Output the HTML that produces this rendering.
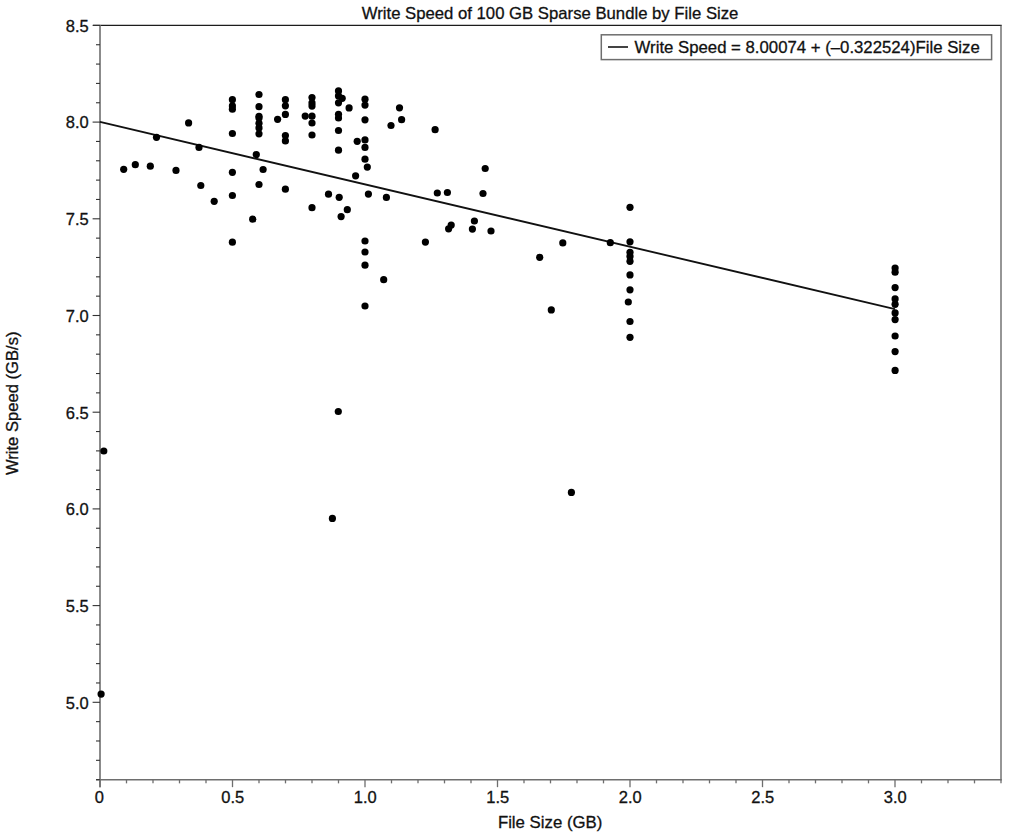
<!DOCTYPE html>
<html><head><meta charset="utf-8"><title>Write Speed of 100 GB Sparse Bundle by File Size</title>
<style>
html,body{margin:0;padding:0;background:#fff;}
body{width:1023px;height:837px;overflow:hidden;}
svg{display:block;font-family:"Liberation Sans", sans-serif;}
text{fill:#111;stroke:#111;stroke-width:0.3px;}
</style></head><body>
<svg width="1023" height="837" viewBox="0 0 1023 837">
<line x1="93" y1="25.4" x2="1001.7" y2="25.4" stroke="#1c1c1c" stroke-width="1.2"/>
<line x1="1001.0" y1="25.4" x2="1001.0" y2="780.3600000000001" stroke="#5e5e5e" stroke-width="1.3"/>
<line x1="100.0" y1="24.9" x2="100.0" y2="787.1600000000001" stroke="#6e6e6e" stroke-width="1.6"/>
<line x1="96" y1="779.6600000000001" x2="1001.7" y2="779.6600000000001" stroke="#6e6e6e" stroke-width="1.5"/>
<line x1="96.0" y1="779.66" x2="100.0" y2="779.66" stroke="#333" stroke-width="1.1"/>
<line x1="96.0" y1="760.32" x2="100.0" y2="760.32" stroke="#333" stroke-width="1.1"/>
<line x1="96.0" y1="740.98" x2="100.0" y2="740.98" stroke="#333" stroke-width="1.1"/>
<line x1="96.0" y1="721.64" x2="100.0" y2="721.64" stroke="#333" stroke-width="1.1"/>
<line x1="92.6" y1="702.30" x2="100.0" y2="702.30" stroke="#333" stroke-width="1.1"/>
<line x1="96.0" y1="682.96" x2="100.0" y2="682.96" stroke="#333" stroke-width="1.1"/>
<line x1="96.0" y1="663.62" x2="100.0" y2="663.62" stroke="#333" stroke-width="1.1"/>
<line x1="96.0" y1="644.28" x2="100.0" y2="644.28" stroke="#333" stroke-width="1.1"/>
<line x1="96.0" y1="624.94" x2="100.0" y2="624.94" stroke="#333" stroke-width="1.1"/>
<line x1="92.6" y1="605.60" x2="100.0" y2="605.60" stroke="#333" stroke-width="1.1"/>
<line x1="96.0" y1="586.26" x2="100.0" y2="586.26" stroke="#333" stroke-width="1.1"/>
<line x1="96.0" y1="566.92" x2="100.0" y2="566.92" stroke="#333" stroke-width="1.1"/>
<line x1="96.0" y1="547.58" x2="100.0" y2="547.58" stroke="#333" stroke-width="1.1"/>
<line x1="96.0" y1="528.24" x2="100.0" y2="528.24" stroke="#333" stroke-width="1.1"/>
<line x1="92.6" y1="508.90" x2="100.0" y2="508.90" stroke="#333" stroke-width="1.1"/>
<line x1="96.0" y1="489.56" x2="100.0" y2="489.56" stroke="#333" stroke-width="1.1"/>
<line x1="96.0" y1="470.22" x2="100.0" y2="470.22" stroke="#333" stroke-width="1.1"/>
<line x1="96.0" y1="450.88" x2="100.0" y2="450.88" stroke="#333" stroke-width="1.1"/>
<line x1="96.0" y1="431.54" x2="100.0" y2="431.54" stroke="#333" stroke-width="1.1"/>
<line x1="92.6" y1="412.20" x2="100.0" y2="412.20" stroke="#333" stroke-width="1.1"/>
<line x1="96.0" y1="392.86" x2="100.0" y2="392.86" stroke="#333" stroke-width="1.1"/>
<line x1="96.0" y1="373.52" x2="100.0" y2="373.52" stroke="#333" stroke-width="1.1"/>
<line x1="96.0" y1="354.18" x2="100.0" y2="354.18" stroke="#333" stroke-width="1.1"/>
<line x1="96.0" y1="334.84" x2="100.0" y2="334.84" stroke="#333" stroke-width="1.1"/>
<line x1="92.6" y1="315.50" x2="100.0" y2="315.50" stroke="#333" stroke-width="1.1"/>
<line x1="96.0" y1="296.16" x2="100.0" y2="296.16" stroke="#333" stroke-width="1.1"/>
<line x1="96.0" y1="276.82" x2="100.0" y2="276.82" stroke="#333" stroke-width="1.1"/>
<line x1="96.0" y1="257.48" x2="100.0" y2="257.48" stroke="#333" stroke-width="1.1"/>
<line x1="96.0" y1="238.14" x2="100.0" y2="238.14" stroke="#333" stroke-width="1.1"/>
<line x1="92.6" y1="218.80" x2="100.0" y2="218.80" stroke="#333" stroke-width="1.1"/>
<line x1="96.0" y1="199.46" x2="100.0" y2="199.46" stroke="#333" stroke-width="1.1"/>
<line x1="96.0" y1="180.12" x2="100.0" y2="180.12" stroke="#333" stroke-width="1.1"/>
<line x1="96.0" y1="160.78" x2="100.0" y2="160.78" stroke="#333" stroke-width="1.1"/>
<line x1="96.0" y1="141.44" x2="100.0" y2="141.44" stroke="#333" stroke-width="1.1"/>
<line x1="92.6" y1="122.10" x2="100.0" y2="122.10" stroke="#333" stroke-width="1.1"/>
<line x1="96.0" y1="102.76" x2="100.0" y2="102.76" stroke="#333" stroke-width="1.1"/>
<line x1="96.0" y1="83.42" x2="100.0" y2="83.42" stroke="#333" stroke-width="1.1"/>
<line x1="96.0" y1="64.08" x2="100.0" y2="64.08" stroke="#333" stroke-width="1.1"/>
<line x1="96.0" y1="44.74" x2="100.0" y2="44.74" stroke="#333" stroke-width="1.1"/>
<line x1="92.6" y1="25.40" x2="100.0" y2="25.40" stroke="#333" stroke-width="1.1"/>
<line x1="100.00" y1="779.6600000000001" x2="100.00" y2="787.1600000000001" stroke="#6e6e6e" stroke-width="1.3"/>
<line x1="126.50" y1="779.6600000000001" x2="126.50" y2="783.3600000000001" stroke="#6e6e6e" stroke-width="1.3"/>
<line x1="153.00" y1="779.6600000000001" x2="153.00" y2="783.3600000000001" stroke="#6e6e6e" stroke-width="1.3"/>
<line x1="179.50" y1="779.6600000000001" x2="179.50" y2="783.3600000000001" stroke="#6e6e6e" stroke-width="1.3"/>
<line x1="206.00" y1="779.6600000000001" x2="206.00" y2="783.3600000000001" stroke="#6e6e6e" stroke-width="1.3"/>
<line x1="232.50" y1="779.6600000000001" x2="232.50" y2="787.1600000000001" stroke="#6e6e6e" stroke-width="1.3"/>
<line x1="259.00" y1="779.6600000000001" x2="259.00" y2="783.3600000000001" stroke="#6e6e6e" stroke-width="1.3"/>
<line x1="285.50" y1="779.6600000000001" x2="285.50" y2="783.3600000000001" stroke="#6e6e6e" stroke-width="1.3"/>
<line x1="312.00" y1="779.6600000000001" x2="312.00" y2="783.3600000000001" stroke="#6e6e6e" stroke-width="1.3"/>
<line x1="338.50" y1="779.6600000000001" x2="338.50" y2="783.3600000000001" stroke="#6e6e6e" stroke-width="1.3"/>
<line x1="365.00" y1="779.6600000000001" x2="365.00" y2="787.1600000000001" stroke="#6e6e6e" stroke-width="1.3"/>
<line x1="391.50" y1="779.6600000000001" x2="391.50" y2="783.3600000000001" stroke="#6e6e6e" stroke-width="1.3"/>
<line x1="418.00" y1="779.6600000000001" x2="418.00" y2="783.3600000000001" stroke="#6e6e6e" stroke-width="1.3"/>
<line x1="444.50" y1="779.6600000000001" x2="444.50" y2="783.3600000000001" stroke="#6e6e6e" stroke-width="1.3"/>
<line x1="471.00" y1="779.6600000000001" x2="471.00" y2="783.3600000000001" stroke="#6e6e6e" stroke-width="1.3"/>
<line x1="497.50" y1="779.6600000000001" x2="497.50" y2="787.1600000000001" stroke="#6e6e6e" stroke-width="1.3"/>
<line x1="524.00" y1="779.6600000000001" x2="524.00" y2="783.3600000000001" stroke="#6e6e6e" stroke-width="1.3"/>
<line x1="550.50" y1="779.6600000000001" x2="550.50" y2="783.3600000000001" stroke="#6e6e6e" stroke-width="1.3"/>
<line x1="577.00" y1="779.6600000000001" x2="577.00" y2="783.3600000000001" stroke="#6e6e6e" stroke-width="1.3"/>
<line x1="603.50" y1="779.6600000000001" x2="603.50" y2="783.3600000000001" stroke="#6e6e6e" stroke-width="1.3"/>
<line x1="630.00" y1="779.6600000000001" x2="630.00" y2="787.1600000000001" stroke="#6e6e6e" stroke-width="1.3"/>
<line x1="656.50" y1="779.6600000000001" x2="656.50" y2="783.3600000000001" stroke="#6e6e6e" stroke-width="1.3"/>
<line x1="683.00" y1="779.6600000000001" x2="683.00" y2="783.3600000000001" stroke="#6e6e6e" stroke-width="1.3"/>
<line x1="709.50" y1="779.6600000000001" x2="709.50" y2="783.3600000000001" stroke="#6e6e6e" stroke-width="1.3"/>
<line x1="736.00" y1="779.6600000000001" x2="736.00" y2="783.3600000000001" stroke="#6e6e6e" stroke-width="1.3"/>
<line x1="762.50" y1="779.6600000000001" x2="762.50" y2="787.1600000000001" stroke="#6e6e6e" stroke-width="1.3"/>
<line x1="789.00" y1="779.6600000000001" x2="789.00" y2="783.3600000000001" stroke="#6e6e6e" stroke-width="1.3"/>
<line x1="815.50" y1="779.6600000000001" x2="815.50" y2="783.3600000000001" stroke="#6e6e6e" stroke-width="1.3"/>
<line x1="842.00" y1="779.6600000000001" x2="842.00" y2="783.3600000000001" stroke="#6e6e6e" stroke-width="1.3"/>
<line x1="868.50" y1="779.6600000000001" x2="868.50" y2="783.3600000000001" stroke="#6e6e6e" stroke-width="1.3"/>
<line x1="895.00" y1="779.6600000000001" x2="895.00" y2="787.1600000000001" stroke="#6e6e6e" stroke-width="1.3"/>
<line x1="921.50" y1="779.6600000000001" x2="921.50" y2="783.3600000000001" stroke="#6e6e6e" stroke-width="1.3"/>
<line x1="948.00" y1="779.6600000000001" x2="948.00" y2="783.3600000000001" stroke="#6e6e6e" stroke-width="1.3"/>
<line x1="974.50" y1="779.6600000000001" x2="974.50" y2="783.3600000000001" stroke="#6e6e6e" stroke-width="1.3"/>
<line x1="1001.00" y1="779.6600000000001" x2="1001.00" y2="783.3600000000001" stroke="#6e6e6e" stroke-width="1.3"/>
<text x="88.8" y="31.70" text-anchor="end" font-size="16.5">8.5</text>
<text x="88.8" y="128.40" text-anchor="end" font-size="16.5">8.0</text>
<text x="88.8" y="225.10" text-anchor="end" font-size="16.5">7.5</text>
<text x="88.8" y="321.80" text-anchor="end" font-size="16.5">7.0</text>
<text x="88.8" y="418.50" text-anchor="end" font-size="16.5">6.5</text>
<text x="88.8" y="515.20" text-anchor="end" font-size="16.5">6.0</text>
<text x="88.8" y="611.90" text-anchor="end" font-size="16.5">5.5</text>
<text x="88.8" y="708.60" text-anchor="end" font-size="16.5">5.0</text>
<text x="99.40" y="802.6" text-anchor="middle" font-size="16.5">0</text>
<text x="232.80" y="802.6" text-anchor="middle" font-size="16.5">0.5</text>
<text x="365.30" y="802.6" text-anchor="middle" font-size="16.5">1.0</text>
<text x="497.80" y="802.6" text-anchor="middle" font-size="16.5">1.5</text>
<text x="630.30" y="802.6" text-anchor="middle" font-size="16.5">2.0</text>
<text x="762.80" y="802.6" text-anchor="middle" font-size="16.5">2.5</text>
<text x="895.30" y="802.6" text-anchor="middle" font-size="16.5">3.0</text>
<line x1="100.0" y1="121.96" x2="895.00" y2="309.09" stroke="#111" stroke-width="1.85"/>
<circle cx="103.8" cy="451.0" r="3.6"/>
<circle cx="101.1" cy="694.1" r="3.6"/>
<circle cx="123.7" cy="169.3" r="3.6"/>
<circle cx="135.3" cy="164.7" r="3.6"/>
<circle cx="150.3" cy="166.2" r="3.6"/>
<circle cx="176.0" cy="170.4" r="3.6"/>
<circle cx="156.5" cy="137.3" r="3.6"/>
<circle cx="188.6" cy="122.9" r="3.6"/>
<circle cx="199.0" cy="147.4" r="3.6"/>
<circle cx="200.8" cy="185.5" r="3.6"/>
<circle cx="214.2" cy="201.3" r="3.6"/>
<circle cx="232.4" cy="99.7" r="3.6"/>
<circle cx="232.4" cy="105.9" r="3.6"/>
<circle cx="232.4" cy="109.2" r="3.6"/>
<circle cx="232.4" cy="133.5" r="3.6"/>
<circle cx="232.4" cy="172.3" r="3.6"/>
<circle cx="232.4" cy="195.5" r="3.6"/>
<circle cx="232.4" cy="242.2" r="3.6"/>
<circle cx="259.0" cy="94.5" r="3.6"/>
<circle cx="259.0" cy="106.7" r="3.6"/>
<circle cx="259.0" cy="116.3" r="3.6"/>
<circle cx="259.0" cy="118.1" r="3.6"/>
<circle cx="259.0" cy="123.3" r="3.6"/>
<circle cx="259.0" cy="127.9" r="3.6"/>
<circle cx="259.0" cy="133.8" r="3.6"/>
<circle cx="259.0" cy="184.5" r="3.6"/>
<circle cx="256.3" cy="154.6" r="3.6"/>
<circle cx="263.1" cy="169.5" r="3.6"/>
<circle cx="252.7" cy="219.2" r="3.6"/>
<circle cx="277.6" cy="119.3" r="3.6"/>
<circle cx="285.4" cy="99.7" r="3.6"/>
<circle cx="285.4" cy="105.8" r="3.6"/>
<circle cx="285.4" cy="114.4" r="3.6"/>
<circle cx="285.4" cy="135.6" r="3.6"/>
<circle cx="285.4" cy="140.9" r="3.6"/>
<circle cx="285.4" cy="189.2" r="3.6"/>
<circle cx="312.0" cy="97.5" r="3.6"/>
<circle cx="312.0" cy="102.9" r="3.6"/>
<circle cx="312.0" cy="106.1" r="3.6"/>
<circle cx="312.0" cy="116.2" r="3.6"/>
<circle cx="312.0" cy="123.0" r="3.6"/>
<circle cx="312.0" cy="135.0" r="3.6"/>
<circle cx="312.0" cy="207.7" r="3.6"/>
<circle cx="305.2" cy="116.1" r="3.6"/>
<circle cx="328.5" cy="194.2" r="3.6"/>
<circle cx="338.5" cy="90.9" r="3.6"/>
<circle cx="338.5" cy="95.9" r="3.6"/>
<circle cx="338.5" cy="102.8" r="3.6"/>
<circle cx="338.5" cy="114.3" r="3.6"/>
<circle cx="338.5" cy="118.0" r="3.6"/>
<circle cx="338.5" cy="130.5" r="3.6"/>
<circle cx="338.5" cy="150.2" r="3.6"/>
<circle cx="342.2" cy="98.3" r="3.6"/>
<circle cx="349.1" cy="107.9" r="3.6"/>
<circle cx="339.2" cy="197.3" r="3.6"/>
<circle cx="347.3" cy="209.7" r="3.6"/>
<circle cx="341.1" cy="216.6" r="3.6"/>
<circle cx="357.2" cy="141.3" r="3.6"/>
<circle cx="355.6" cy="175.8" r="3.6"/>
<circle cx="332.4" cy="518.4" r="3.6"/>
<circle cx="338.3" cy="411.5" r="3.6"/>
<circle cx="365.0" cy="99.2" r="3.6"/>
<circle cx="365.0" cy="105.1" r="3.6"/>
<circle cx="365.0" cy="119.8" r="3.6"/>
<circle cx="365.0" cy="139.9" r="3.6"/>
<circle cx="365.0" cy="147.4" r="3.6"/>
<circle cx="365.0" cy="159.2" r="3.6"/>
<circle cx="365.0" cy="241.0" r="3.6"/>
<circle cx="365.0" cy="252.0" r="3.6"/>
<circle cx="365.0" cy="265.2" r="3.6"/>
<circle cx="365.0" cy="306.0" r="3.6"/>
<circle cx="367.3" cy="167.1" r="3.6"/>
<circle cx="368.4" cy="194.1" r="3.6"/>
<circle cx="386.4" cy="197.4" r="3.6"/>
<circle cx="383.7" cy="279.7" r="3.6"/>
<circle cx="399.5" cy="107.8" r="3.6"/>
<circle cx="401.6" cy="119.7" r="3.6"/>
<circle cx="391.0" cy="125.5" r="3.6"/>
<circle cx="435.1" cy="129.7" r="3.6"/>
<circle cx="437.3" cy="193.0" r="3.6"/>
<circle cx="447.4" cy="192.5" r="3.6"/>
<circle cx="425.4" cy="242.1" r="3.6"/>
<circle cx="451.2" cy="225.1" r="3.6"/>
<circle cx="448.6" cy="228.8" r="3.6"/>
<circle cx="474.4" cy="221.0" r="3.6"/>
<circle cx="472.4" cy="229.1" r="3.6"/>
<circle cx="491.0" cy="231.0" r="3.6"/>
<circle cx="485.2" cy="168.5" r="3.6"/>
<circle cx="483.0" cy="193.5" r="3.6"/>
<circle cx="539.7" cy="257.3" r="3.6"/>
<circle cx="562.8" cy="242.9" r="3.6"/>
<circle cx="551.3" cy="309.9" r="3.6"/>
<circle cx="571.4" cy="492.4" r="3.6"/>
<circle cx="610.3" cy="242.7" r="3.6"/>
<circle cx="630.0" cy="207.3" r="3.6"/>
<circle cx="630.0" cy="241.8" r="3.6"/>
<circle cx="630.0" cy="252.3" r="3.6"/>
<circle cx="630.0" cy="256.4" r="3.6"/>
<circle cx="630.0" cy="261.3" r="3.6"/>
<circle cx="630.0" cy="274.9" r="3.6"/>
<circle cx="630.0" cy="289.8" r="3.6"/>
<circle cx="630.0" cy="321.5" r="3.6"/>
<circle cx="630.0" cy="337.3" r="3.6"/>
<circle cx="628.3" cy="302.0" r="3.6"/>
<circle cx="895.1" cy="268.0" r="3.6"/>
<circle cx="895.1" cy="272.2" r="3.6"/>
<circle cx="895.1" cy="287.6" r="3.6"/>
<circle cx="895.1" cy="298.9" r="3.6"/>
<circle cx="895.1" cy="304.3" r="3.6"/>
<circle cx="895.1" cy="312.9" r="3.6"/>
<circle cx="895.1" cy="319.6" r="3.6"/>
<circle cx="895.1" cy="336.0" r="3.6"/>
<circle cx="895.1" cy="351.6" r="3.6"/>
<circle cx="895.1" cy="370.4" r="3.6"/>
<text x="550.1" y="18.7" text-anchor="middle" font-size="16.72">Write Speed of 100 GB Sparse Bundle by File Size</text>
<rect x="601.3" y="34.8" width="390.3" height="24.8" fill="#fff" stroke="#6e6e6e" stroke-width="1.5"/>
<line x1="608" y1="47" x2="628" y2="47" stroke="#444" stroke-width="2"/>
<text x="634.6" y="53.3" font-size="16.76">Write Speed = 8.00074 + (–0.322524)File Size</text>
<text x="550.1" y="827.7" text-anchor="middle" font-size="16.8">File Size (GB)</text>
<text transform="translate(17.6 403.3) rotate(-90)" text-anchor="middle" font-size="16.6">Write Speed (GB/s)</text>
</svg>
</body></html>
